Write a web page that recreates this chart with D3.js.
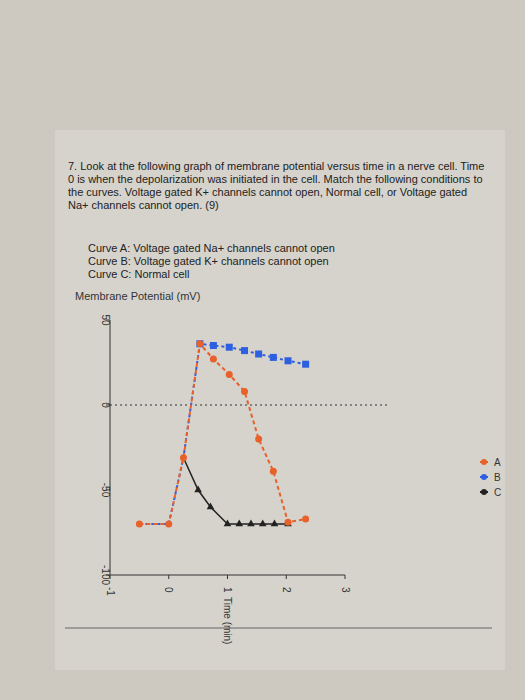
<!DOCTYPE html>
<meta charset="utf-8">
<style>body{margin:0;background:#c9c5bd}</style>
<body>
<script src="https://cdn.jsdelivr.net/npm/d3@7"></script>
<script>
var width = 525, height = 700;

var questionLines = [
  "7. Look at the following graph of membrane potential versus time in a nerve cell. Time",
  "0 is when the depolarization was initiated in the cell. Match the following conditions to",
  "the curves. Voltage gated K+ channels cannot open, Normal cell, or Voltage gated",
  "Na+ channels cannot open. (9)"
];
var curveLines = [
  "Curve A: Voltage gated Na+ channels cannot open",
  "Curve B: Voltage gated K+ channels cannot open",
  "Curve C: Normal cell"
];
var timeTicks = [-1, 0, 1, 2, 3];
var mvTicks = [50, 0, -50, -100];

// [time (min), potential (mV)]
var curveA = [[-0.5,-70],[0,-70],[0.25,-31],[0.53,36],[0.76,27],[1.03,18],[1.29,8],[1.53,-20],[1.78,-39],[2.03,-69],[2.33,-67]];
var curveB = [[-0.5,-70],[0,-70],[0.25,-31],[0.53,36],[0.76,35],[1.03,34],[1.29,32],[1.53,30],[1.78,28],[2.03,26],[2.33,24]];
var curveC = [[0.25,-31],[0.5,-50],[0.71,-60],[1.0,-70],[1.2,-70],[1.4,-70],[1.6,-70],[1.8,-70],[2.03,-70]];

var svg = d3.select("body").append("svg").attr("width", width).attr("height", height);

// photo-ish background
svg.append("rect").attr("width", width).attr("height", height).attr("fill", "#cdc9c1");
svg.append("rect").attr("x", 55).attr("y", 130).attr("width", 450).attr("height", 540).attr("fill", "#d6d3cc");

svg.selectAll("text.q").data(questionLines).enter().append("text")
  .attr("x", 68).attr("y", function(d, i) { return 170 + i * 13; })
  .style("font-family", "Liberation Sans, Arial").style("font-size", "11px").attr("fill", "#222")
  .text(function(d) { return d; });
svg.selectAll("text.c").data(curveLines).enter().append("text")
  .attr("x", 88).attr("y", function(d, i) { return 252 + i * 13; })
  .style("font-family", "Liberation Sans, Arial").style("font-size", "11px").attr("fill", "#222")
  .text(function(d) { return d; });

svg.append("text").attr("x", 75).attr("y", 300)
  .style("font-family", "Liberation Sans, Arial").style("font-size", "11px").attr("fill", "#333")
  .text("Membrane Potential (mV)");

var x = d3.scaleLinear().domain([-1, 3]).range([110, 345]);
var y = d3.scaleLinear().domain([-100, 50]).range([575, 320]);

// axes
svg.append("line").attr("x1", x(-1)).attr("x2", x(-1)).attr("y1", y(50)).attr("y2", y(-100)).attr("stroke", "#333");
svg.append("line").attr("x1", x(-1)).attr("x2", x(3)).attr("y1", y(-100)).attr("y2", y(-100)).attr("stroke", "#333");
svg.selectAll("line.yt").data(mvTicks).enter().append("line")
  .attr("x1", x(-1) - 4).attr("x2", x(-1)).attr("y1", function(d) { return y(d); }).attr("y2", function(d) { return y(d); }).attr("stroke", "#333");
svg.selectAll("line.xt").data(timeTicks).enter().append("line")
  .attr("y1", y(-100)).attr("y2", y(-100) + 4).attr("x1", function(d) { return x(d); }).attr("x2", function(d) { return x(d); }).attr("stroke", "#333");
svg.selectAll("text.yl").data(mvTicks).enter().append("text")
  .attr("transform", function(d) { return "translate(" + (x(-1) - 8) + "," + y(d) + ") rotate(90)"; })
  .attr("text-anchor", "middle").style("font-family", "Liberation Sans, Arial").style("font-size", "10px").attr("fill", "#333")
  .text(function(d) { return d; });
svg.selectAll("text.xl").data(timeTicks).enter().append("text")
  .attr("transform", function(d) { return "translate(" + x(d) + "," + (y(-100) + 12) + ") rotate(90)"; })
  .attr("dy", "0.35em").style("font-family", "Liberation Sans, Arial").style("font-size", "10px").attr("fill", "#333")
  .text(function(d) { return d; });
svg.append("text").attr("transform", "translate(" + x(1) + "," + (y(-100) + 22) + ") rotate(90)")
  .attr("dy", "0.35em").style("font-family", "Liberation Sans, Arial").style("font-size", "10px").attr("fill", "#333")
  .text("Time (min)");

// zero line
svg.append("line").attr("x1", x(-1)).attr("x2", 390).attr("y1", y(0)).attr("y2", y(0))
  .attr("stroke", "#333").attr("stroke-dasharray", "2,3");

var line = d3.line().x(function(d) { return x(d[0]); }).y(function(d) { return y(d[1]); });

svg.append("path").datum(curveC).attr("d", line).attr("fill", "none").attr("stroke", "#222").attr("stroke-width", 1.5);
svg.selectAll("path.tri").data(curveC.slice(1)).enter().append("path")
  .attr("d", d3.symbol().type(d3.symbolTriangle).size(25))
  .attr("transform", function(d) { return "translate(" + x(d[0]) + "," + y(d[1]) + ")"; }).attr("fill", "#222");

svg.append("path").datum(curveB).attr("d", line).attr("fill", "none").attr("stroke", "#2d5fe0").attr("stroke-width", 2).attr("stroke-dasharray", "3,3");
svg.selectAll("rect.b").data(curveB.slice(3)).enter().append("rect")
  .attr("x", function(d) { return x(d[0]) - 3.5; }).attr("y", function(d) { return y(d[1]) - 3.5; })
  .attr("width", 7).attr("height", 7).attr("fill", "#2d5fe0");

svg.append("path").datum(curveA).attr("d", line).attr("fill", "none").attr("stroke", "#e8602a").attr("stroke-width", 2).attr("stroke-dasharray", "4,3");
svg.selectAll("circle.a").data(curveA).enter().append("circle")
  .attr("cx", function(d) { return x(d[0]); }).attr("cy", function(d) { return y(d[1]); })
  .attr("r", 3.5).attr("fill", "#e8602a");

// legend
var legend = [["A", "#e8602a"], ["B", "#2d5fe0"], ["C", "#222"]];
var lg = svg.selectAll("g.lg").data(legend).enter().append("g")
  .attr("transform", function(d, i) { return "translate(" + (488 - i * 0) + "," + (462 + i * 15) + ")"; });
lg.append("line").attr("x1", -8).attr("x2", 0).attr("stroke", function(d) { return d[1]; }).attr("stroke-width", 2);
lg.append("circle").attr("cx", -4).attr("r", 3).attr("fill", function(d) { return d[1]; });
lg.append("text").attr("x", 6).attr("dy", "0.35em").style("font-family", "Liberation Sans, Arial").style("font-size", "10px")
  .attr("fill", "#333").text(function(d) { return d[0]; });

svg.append("line").attr("x1", 65).attr("x2", 492).attr("y1", 628).attr("y2", 628).attr("stroke", "#666");
</script>
